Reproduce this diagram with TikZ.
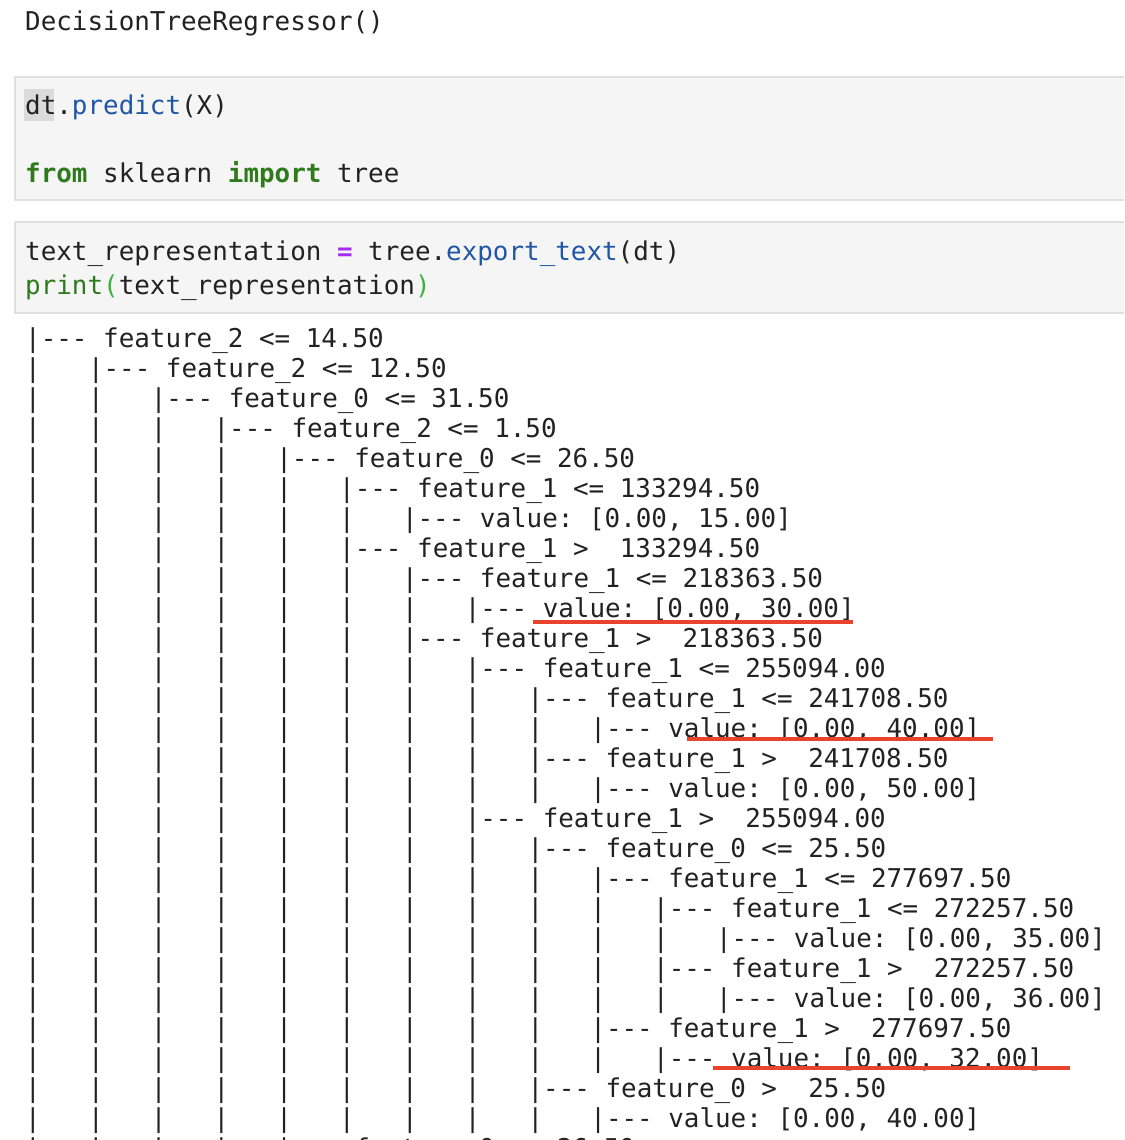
\documentclass[tikz,border=0pt]{standalone}
\usepackage{fontspec}
\setmonofont{DejaVu Sans Mono}
\definecolor{cellbg}{HTML}{F5F5F5}
\definecolor{cellbd}{HTML}{E0E0E0}
\definecolor{kwgreen}{HTML}{2E7A1C}
\definecolor{pargreen}{HTML}{3CB43C}
\definecolor{fnblue}{HTML}{1F56A6}
\definecolor{oppurple}{HTML}{A62BF5}
\definecolor{ulred}{HTML}{E8442C}
\definecolor{txt}{HTML}{222222}
\begin{document}
\begin{tikzpicture}[x=1pt,y=-1pt,
  code/.style={anchor=base west,inner sep=0pt,font=\ttfamily\fontsize{25.9}{30}\selectfont,text=txt},
  cell/.style={fill=cellbg,draw=cellbd,line width=1.5pt},
  uline/.style={draw=ulred,line width=3.5pt}]
\useasboundingbox (0,0) rectangle (1124,1140);
\clip (0,0) rectangle (1124,1140);
\fill[white] (0,0) rectangle (1124,1140);
\node[code] (h) at (25,31) {DecisionTreeRegressor()};
\draw[cell] (15,77) rectangle (1140,200);
\draw[cell] (15,222) rectangle (1140,313);
\fill[black!14] (24,89) rectangle (54,121);
\node[code] (c1) at (25,114) {dt.\textcolor{fnblue}{predict}(X)};
\node[code] (c2) at (25,182) {\textcolor{kwgreen}{\bfseries from} sklearn \textcolor{kwgreen}{\bfseries import} tree};
\node[code] (c3) at (25,260) {text\_representation \textcolor{oppurple}{\bfseries =} tree.\textcolor{fnblue}{export\_text}(dt)};
\node[code] (c4) at (25,294) {\textcolor{kwgreen}{print}\textcolor{pargreen}{(}text\_representation\textcolor{pargreen}{)}};
\foreach \r/\l/\t in {
 0/0/{feature\_2 <= 14.50},
 1/1/{feature\_2 <= 12.50},
 2/2/{feature\_0 <= 31.50},
 3/3/{feature\_2 <= 1.50},
 4/4/{feature\_0 <= 26.50},
 5/5/{feature\_1 <= 133294.50},
 6/6/{value: [0.00, 15.00]},
 7/5/{feature\_1 >\ \ 133294.50},
 8/6/{feature\_1 <= 218363.50},
 9/7/{value: [0.00, 30.00]},
 10/6/{feature\_1 >\ \ 218363.50},
 11/7/{feature\_1 <= 255094.00},
 12/8/{feature\_1 <= 241708.50},
 13/9/{value: [0.00, 40.00]},
 14/8/{feature\_1 >\ \ 241708.50},
 15/9/{value: [0.00, 50.00]},
 16/7/{feature\_1 >\ \ 255094.00},
 17/8/{feature\_0 <= 25.50},
 18/9/{feature\_1 <= 277697.50},
 19/10/{feature\_1 <= 272257.50},
 20/11/{value: [0.00, 35.00]},
 21/10/{feature\_1 >\ \ 272257.50},
 22/11/{value: [0.00, 36.00]},
 23/9/{feature\_1 >\ \ 277697.50},
 24/10/{value: [0.00, 32.00]},
 25/8/{feature\_0 >\ \ 25.50},
 26/9/{value: [0.00, 40.00]},
 27/4/{feature\_0 >\ \ 26.50}}{
  \node[code] (row\r) at ({25+62.8*\l},{347+30*\r}) {|--- \t};
  \ifnum\l>0
    \foreach \k in {1,...,\l}{
      \node[code] (bar\r-\k) at ({25+62.8*(\k-1)},{347+30*\r}) {|};
    }
  \fi
}
\draw[uline] (533,622) -- (853,622);
\draw[uline] (687,739) -- (993,739);
\draw[uline] (713,1068) -- (1070,1068);
\end{tikzpicture}
\end{document}
